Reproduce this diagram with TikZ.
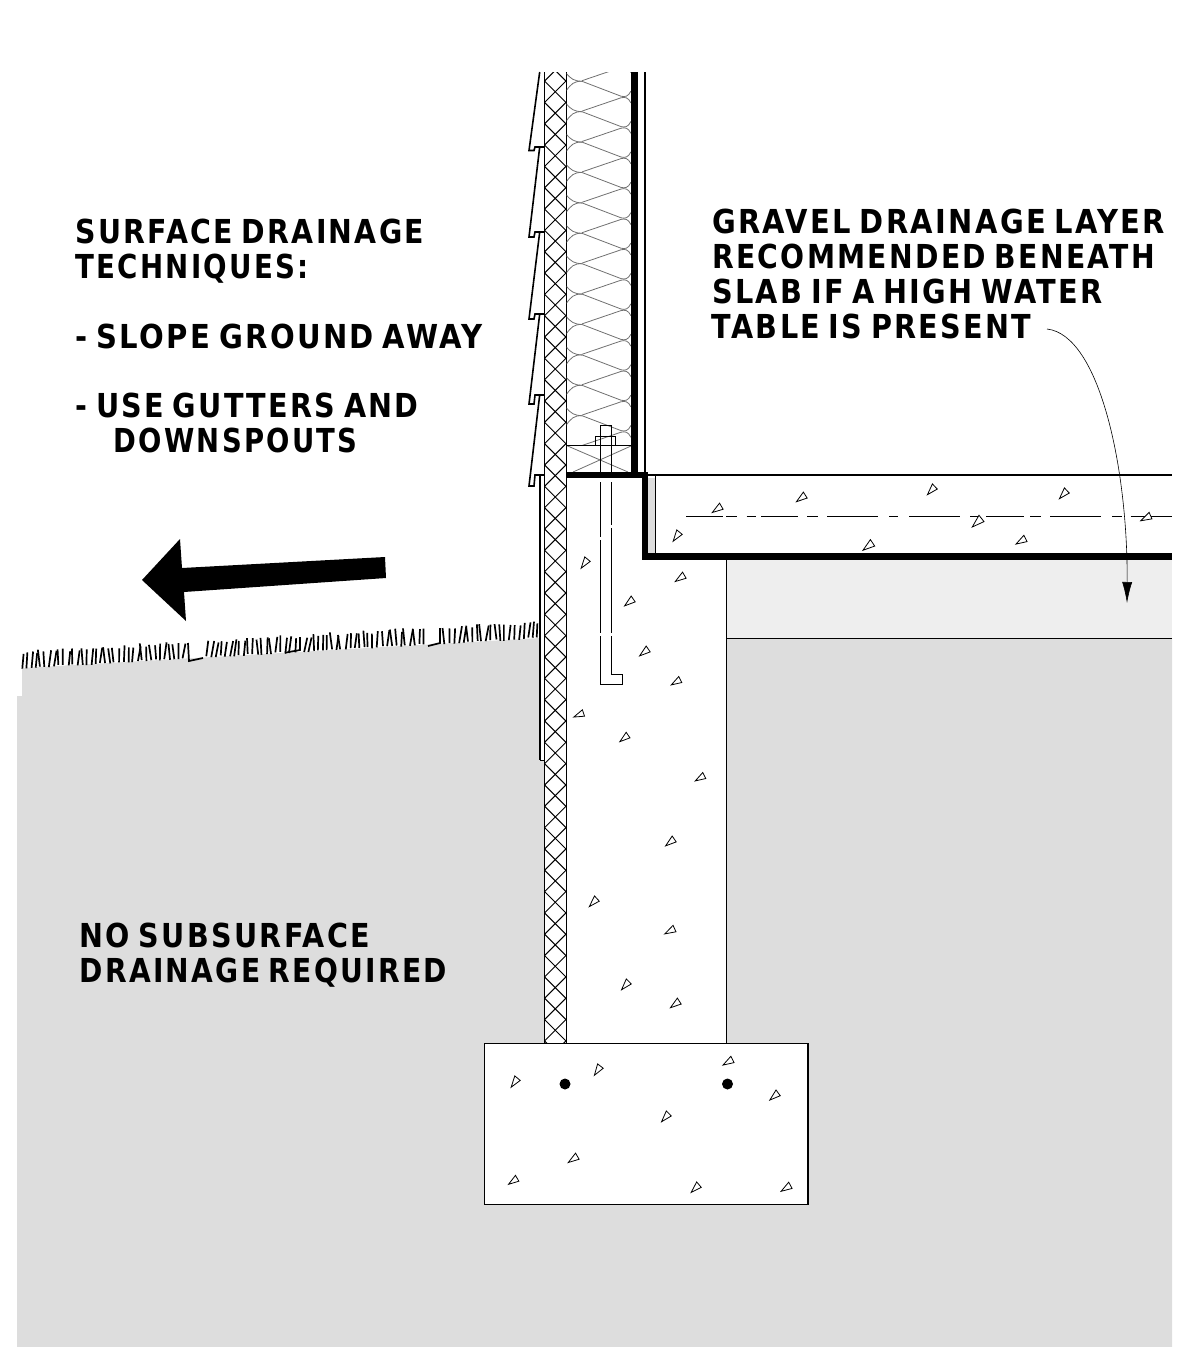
\documentclass[tikz,border=0pt]{standalone}
\usepackage{fontspec}
\usetikzlibrary{arrows.meta}
\newfontfamily\notefont[LetterSpace=7,WordSpace=0.7,FakeStretch=0.86]{DejaVu Sans Bold}
\definecolor{groundgrey}{HTML}{DDDDDD}
\definecolor{gravelgrey}{HTML}{EEEEEE}
\definecolor{battgrey}{HTML}{707070}
\newcommand{\fitline}[2]{\scalebox{#1}[1]{#2}}
\tikzset{
  note/.style={anchor=base west,inner sep=0pt,font=\notefont\fontsize{33}{35}\selectfont},
  thinline/.style={line width=1pt,black},
  battline/.style={line width=0.8pt,battgrey},
  hatchline/.style={line width=1pt,black},
  sidingline/.style={line width=1.6pt,black,line join=miter},
  grassline/.style={line width=1.7pt,black},
  stone/.style={line width=0.8pt,black,fill=white,line join=miter},
  rebarline/.style={line width=1pt,black},
  leader/.style={line width=0.6pt,black,-{Latex[length=21pt,width=10pt]}}
}
\begin{document}
\begin{tikzpicture}[x=1pt,y=-1pt]
\useasboundingbox (0,0) rectangle (1189,1347);
% ground and gravel
\fill[groundgrey] (17,1347) -- (17,696) -- (22,696) -- (22,668) -- (540,638) -- (726,638) -- (1172,638) -- (1172,1347) -- cycle;
\fill[gravelgrey] (726,558) rectangle (1172,638);
\fill[white] (540,475) rectangle (545,760);
\fill[white] (544.5,475) rectangle (726,1043);
\draw[thinline] (726,558) -- (726,1043);
\draw[thinline] (726,638) -- (1172,638);
% grass
\pgfmathsetseed{4242}
\foreach \a/\b in {22/186,207/296,304/426,445/538}{
  \pgfmathtruncatemacro\n{(\b-\a)/4.6}
  \foreach \i in {0,...,\n}{
    \pgfmathsetmacro\gx{\a+\i*4.6+rand*1}
    \pgfmathsetmacro\gy{668-0.0585*(\gx-22)+rand*1}
    \pgfmathsetmacro\tilt{rand*2.8+0.4}
    \draw[grassline] (\gx,\gy) -- ({\gx+\tilt},{\gy-15.5-rand*1.5});
  }
}
\draw[grassline] (188,643) -- (189,661) -- (203,658);
\draw[grassline] (285,652.7) -- (300,650) -- (300,637);
\draw[grassline] (428,646) -- (440,643) -- (440,628);
% foam sheathing cross hatch
\begin{scope}
  \clip (544.5,72) rectangle (566,1043);
  \foreach \k in {-1,...,46}{
    \pgfmathsetmacro\hy{1019.5-21.33*\k}
    \draw[hatchline] (544.5,\hy) -- (566,\hy+21.5);
    \draw[hatchline] (566,\hy) -- (544.5,\hy+21.5);
  }
\end{scope}
\draw[thinline] (544.5,72) -- (544.5,1043);
\draw[thinline] (566,72) -- (566,1043);
% batt insulation
\begin{scope}
  \clip (566.5,72) rectangle (631,445);
  \foreach \k in {-1,...,11}{
    \pgfmathsetmacro\ly{81+30.4*\k}
    \pgfmathsetmacro\ry{97+30.4*\k}
    \pgfmathsetmacro\lz{81+30.4*(\k+1)}
    \draw[battline] (582,\ly+0.3) -- (621,\ry-0.8);
    \draw[battline] (582,\lz-0.3) -- (621,\ry+0.8);
    \draw[battline] (582,\ly+0.3) .. controls (574,\ly) and (571,\ly-2) .. (566,\ly-8);
    \draw[battline] (582,\ly+0.3) .. controls (574,\ly) and (571,\ly+3) .. (566,\ly+10);
    \draw[battline] (621,\ry-0.8) .. controls (625,\ry) and (628,\ry) .. (631,\ry-6);
    \draw[battline] (621,\ry+0.8) .. controls (625,\ry) and (628,\ry) .. (631,\ry+6);
  }
\end{scope}
% sill plate block below the sole line
\fill[white] (566.5,445) rectangle (631,472);
\draw[battline] (573,472) -- (631,446);
\draw[battline] (566.5,445.5) -- (628,472);
\draw[thinline] (566,445) -- (631,445);
% siding courses
\draw[sidingline] (539.7,72) -- (529,150.5) -- (534,150.5) -- (535,147) -- (544,147);
\foreach \t/\b/\nt in {147/237/232,232/319/314,314/404/395,395/486/475}{
  \draw[sidingline] (539.7,\t) -- (529,\b) -- (534,\b) -- (535,\nt) -- (544,\nt);
}
% flashing
\draw[line width=1.4pt] (540,475) -- (540,760);
\draw[line width=0.8pt] (540,760) -- (544.5,760);
% wall framing
\fill[black] (631,72) rectangle (638,472);
\fill[black] (644,72) rectangle (646,475);
\fill[black] (566,472) rectangle (648,478);
% slab
\fill[white] (655,476) rectangle (1172,552);
\fill[groundgrey] (648,478) rectangle (655,553);
\draw[thinline] (655,476) -- (655,553);
\fill[black] (642,472) rectangle (648,559);
\fill[black] (642,553) rectangle (1172,560);
\fill[black] (646,474) rectangle (1172,476);
% slab mesh
\foreach \s/\e in {78/190,198/230,260/288,303/415,442/475,502/653,688/714,748/900,930/957,978/1092,1110/1142,1170/1322,1356/1385,1412/1536}{
  \draw[thinline] ({660+\s/3},516) -- ({660+\e/3},516);
}
% anchor bolt
\draw[rebarline] (600.3,445) -- (600.3,425) -- (611.3,425) -- (611.3,445);
\draw[rebarline] (595.3,445) -- (595.3,436.7) -- (615.3,436.7) -- (615.3,445);
\draw[rebarline] (600.3,445) -- (600.3,472);
\draw[rebarline] (611.3,445) -- (611.3,472);
\foreach \s/\e in {482/537,540/633,636/684.3}{ \draw[rebarline] (600.3,\s) -- (600.3,\e); }
\foreach \s/\e in {482/525,528/633,636/674.5}{ \draw[rebarline] (611.3,\s) -- (611.3,\e); }
\draw[rebarline] (611.3,674.5) -- (622,674.5) -- (622,684.3) -- (600.3,684.3);
% footing
\draw[line width=1pt,fill=white] (484.5,1043.5) rectangle (807,1204);
\draw[line width=2pt] (807.5,1043) -- (807.5,1205);
\fill[black] (565,1084) circle (5.5);
\fill[black] (727.5,1084) circle (5.5);
% aggregate
\foreach \x/\y/\r/\q in {718/508/-8/1.05,802/497/-6/1.05,932/489/5/1.05,1064/493/5/1.05,677/535/12/1.05,869/545/-5/1.15,978/521/0/1.2,1022/540/-12/1.05,1147/517/-15/1.05,
  585/562/12/1.05,681/577/-8/1.05,630/601/-4/1.05,645/651/-4/1.05,677/681/-12/1,580/714/-20/1,625/737/-4/1,701/777/-12/1,671/841/-4/1.05,594/901/4/1.05,671/930/-14/1.05,626/984/6/1.05,676/1003/-6/1.05,
  515/1081/12/1.05,598/1069/14/1.05,729/1061/-12/1.05,775/1095/-2/1.05,666/1116/6/1.05,574/1158/-8/1.05,514/1180/-8/1,696/1187/2/1.05,787/1187/-10/1.05}{
  \draw[stone,shift={(\x,\y)},rotate=\r,scale=\q] (-4.8,5) -- (0.8,-4.8) -- (5,0.5) -- cycle;
}
% big arrow
\fill[black] (142,580) -- (180,539) -- (182,568) -- (385,557) -- (386,578) -- (184,592) -- (186,621) -- cycle;
% texts
\node[note] (t1) at (75.5,243) {SURFACE DRAINAGE};
\node[note] (t2) at (75.5,278) {\fitline{0.975}{TECHNIQUES:}};
\node[note] (t3) at (75.5,348) {\fitline{1.025}{- SLOPE GROUND AWAY}};
\node[note] (t4) at (75.5,417) {\fitline{1.009}{- USE GUTTERS AND}};
\node[note] (t5) at (113.5,452) {\fitline{0.968}{DOWNSPOUTS}};
\node[note] (r1) at (712,233) {\fitline{1.02}{GRAVEL DRAINAGE LAYER}};
\node[note] (r2) at (712,268) {\fitline{0.995}{RECOMMENDED BENEATH}};
\node[note] (r3) at (712,303) {\fitline{1.013}{SLAB IF A HIGH WATER}};
\node[note] (r4) at (711.5,338) {\fitline{1.01}{TABLE IS PRESENT}};
\node[note] (n1) at (79.5,947) {\fitline{1.007}{NO SUBSURFACE}};
\node[note] (n2) at (79.5,982) {\fitline{0.99}{DRAINAGE REQUIRED}};
% leader
\coordinate (leadstart) at (1047,329);
\coordinate (leadend) at (1127,603);
\draw[leader] (leadstart) .. controls (1100,335) and (1128,470) .. (leadend);
\end{tikzpicture}
\end{document}
